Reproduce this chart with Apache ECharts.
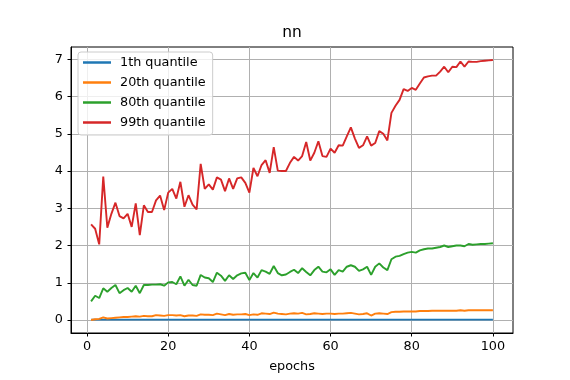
<!DOCTYPE html>
<html>
<head>
<meta charset="utf-8">
<script src="https://cdn.jsdelivr.net/npm/echarts@6/dist/echarts.min.js"></script>
<style>html,body{margin:0;padding:0;background:#fff}#c{width:570px;height:380px}</style>
</head>
<body>
<div id="c"></div>
<script>
var epochs = [1,2,3,4,5,6,7,8,9,10,11,12,13,14,15,16,17,18,19,20,21,22,23,24,25,26,27,28,29,30,31,32,33,34,35,36,37,38,39,40,41,42,43,44,45,46,47,48,49,50,51,52,53,54,55,56,57,58,59,60,61,62,63,64,65,66,67,68,69,70,71,72,73,74,75,76,77,78,79,80,81,82,83,84,85,86,87,88,89,90,91,92,93,94,95,96,97,98,99,100];
var seriesNames = ['1th quantile','20th quantile','80th quantile','99th quantile'];
var q1 = [0.01,0.01,0.01,0.01,0.01,0.01,0.01,0.01,0.01,0.01,0.01,0.01,0.01,0.01,0.01,0.01,0.01,0.01,0.01,0.01,0.01,0.01,0.01,0.01,0.01,0.01,0.01,0.01,0.01,0.01,0.01,0.01,0.01,0.01,0.01,0.01,0.01,0.01,0.01,0.01,0.01,0.01,0.01,0.01,0.01,0.01,0.01,0.01,0.01,0.01,0.01,0.01,0.01,0.01,0.01,0.01,0.01,0.01,0.01,0.01,0.01,0.01,0.01,0.01,0.01,0.01,0.01,0.01,0.01,0.01,0.01,0.01,0.01,0.01,0.01,0.01,0.01,0.01,0.01,0.01,0.01,0.01,0.01,0.01,0.01,0.01,0.01,0.01,0.01,0.01,0.01,0.01,0.01,0.01,0.01,0.01,0.01,0.01,0.01,0.01];
var q20 = [0.0,0.02,0.03,0.07,0.04,0.05,0.06,0.07,0.08,0.08,0.09,0.1,0.09,0.11,0.1,0.1,0.13,0.12,0.11,0.13,0.13,0.12,0.13,0.1,0.12,0.12,0.11,0.15,0.14,0.14,0.13,0.17,0.15,0.13,0.16,0.14,0.15,0.15,0.16,0.13,0.15,0.14,0.18,0.17,0.16,0.2,0.17,0.16,0.15,0.17,0.18,0.17,0.19,0.15,0.16,0.18,0.17,0.16,0.17,0.17,0.16,0.17,0.17,0.18,0.19,0.17,0.15,0.16,0.18,0.12,0.17,0.18,0.17,0.16,0.21,0.22,0.22,0.23,0.23,0.23,0.23,0.24,0.24,0.24,0.25,0.25,0.25,0.25,0.25,0.25,0.25,0.26,0.25,0.26,0.26,0.26,0.26,0.26,0.26,0.26];
var q80 = [0.5,0.65,0.59,0.85,0.76,0.86,0.94,0.72,0.8,0.86,0.76,0.92,0.72,0.94,0.94,0.95,0.95,0.96,0.92,1.01,1.02,0.96,1.17,0.92,1.08,0.94,0.92,1.21,1.14,1.12,1.02,1.27,1.19,1.05,1.2,1.1,1.2,1.25,1.27,1.07,1.26,1.14,1.34,1.3,1.24,1.45,1.26,1.2,1.22,1.29,1.35,1.26,1.39,1.29,1.2,1.34,1.43,1.3,1.28,1.36,1.21,1.34,1.3,1.43,1.47,1.43,1.32,1.36,1.43,1.21,1.43,1.52,1.41,1.34,1.63,1.7,1.72,1.77,1.81,1.83,1.81,1.87,1.9,1.92,1.92,1.94,1.96,2.0,1.96,1.98,2.0,2.0,1.98,2.04,2.02,2.03,2.04,2.04,2.05,2.06];
var q99 = [2.57,2.45,2.03,3.85,2.48,2.85,3.15,2.79,2.73,2.85,2.5,3.13,2.28,3.08,2.9,2.9,3.21,3.34,2.95,3.42,3.52,3.26,3.71,3.04,3.35,3.1,2.97,4.19,3.52,3.64,3.5,3.83,3.77,3.46,3.8,3.52,3.8,3.83,3.68,3.42,4.08,3.86,4.16,4.29,3.95,4.64,4.01,4.0,4.0,4.22,4.38,4.28,4.4,4.78,4.28,4.49,4.8,4.4,4.38,4.6,4.49,4.69,4.68,4.93,5.17,4.87,4.62,4.69,4.93,4.68,4.75,5.07,5.0,4.82,5.56,5.75,5.91,6.2,6.15,6.23,6.18,6.35,6.51,6.54,6.56,6.56,6.67,6.8,6.65,6.8,6.79,6.94,6.8,6.94,6.93,6.93,6.95,6.96,6.97,6.98];
var xTicks = [0,20,40,60,80,100];
var yTicks = [0,1,2,3,4,5,6,7];
var colors = ['#1f77b4','#ff7f0e','#2ca02c','#d62728'];

function pairs(ys){ return epochs.map(function(x,i){ return [x, ys[i]]; }); }
var allData = [q1,q20,q80,q99];
var font = 'DejaVu Sans';
var fs = 12.8;

var chart = echarts.init(document.getElementById('c'), null, {renderer:'canvas'});
chart.setOption({
  animation:false,
  backgroundColor:'#ffffff',
  color: colors,
  title:{ text:'nn', left:292, top:25, padding:0, textAlign:'center',
    textStyle:{ fontFamily:font, fontSize:15.4, fontWeight:'normal', color:'#000' } },
  grid:{ left:71, right:57, top:47, bottom:47, show:true, borderColor:'#000', borderWidth:1, backgroundColor:'transparent' },
  legend:{
    orient:'vertical', left:78, top:52, itemWidth:28, itemHeight:2.5, itemGap:5,
    padding:[3,7,5,5], borderColor:'#cccccc', borderWidth:1, borderRadius:3,
    backgroundColor:'rgba(255,255,255,0.8)', icon:'rect',
    textStyle:{ fontFamily:font, fontSize:fs, color:'#000', lineHeight:15, padding:[0,0,0,4] },
    data: seriesNames
  },
  xAxis:{
    type:'value', min:-3.95, max:104.95,
    name:'epochs', nameLocation:'middle', nameGap:27,
    nameTextStyle:{ fontFamily:font, fontSize:fs, color:'#000' },
    axisLine:{ show:true, onZero:false, lineStyle:{ color:'#000', width:1 } },
    axisTick:{ show:true, inside:false, length:3.5, lineStyle:{ color:'#000' }, customValues:xTicks },
    axisLabel:{ fontFamily:font, fontSize:fs, color:'#000', margin:7, customValues:xTicks },
    splitLine:{ show:true, lineStyle:{ color:'#b0b0b0', width:1 } }
  },
  yAxis:{
    type:'value', min:-0.349, max:7.329,
    axisLine:{ show:true, onZero:false, lineStyle:{ color:'#000', width:1 } },
    axisTick:{ show:true, inside:false, length:3.5, lineStyle:{ color:'#000' }, customValues:yTicks },
    axisLabel:{ fontFamily:font, fontSize:fs, color:'#000', margin:8, customValues:yTicks },
    splitLine:{ show:true, lineStyle:{ color:'#b0b0b0', width:1 } }
  },
  series: seriesNames.map(function(n,i){
    return { name:n, type:'line', data:pairs(allData[i]), symbol:'none', showSymbol:false,
      lineStyle:{ width:1.9, color:colors[i] }, itemStyle:{ color:colors[i] } };
  })
});
</script>
</body>
</html>
